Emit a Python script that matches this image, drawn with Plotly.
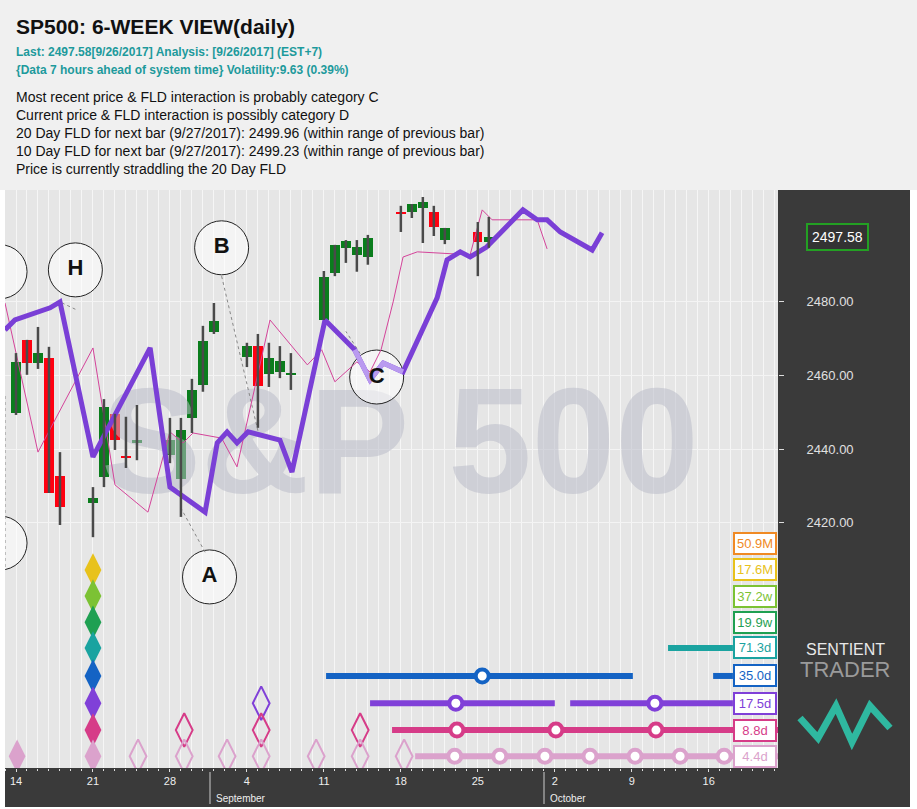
import plotly.graph_objects as go
import pandas as pd

# ---------------- data ----------------
dates = ["2017-08-14","2017-08-15","2017-08-16","2017-08-17","2017-08-18",
         "2017-08-21","2017-08-22","2017-08-23","2017-08-24","2017-08-25",
         "2017-08-28","2017-08-29","2017-08-30","2017-08-31","2017-09-01",
         "2017-09-04","2017-09-05","2017-09-06","2017-09-07","2017-09-08",
         "2017-09-11","2017-09-12","2017-09-13","2017-09-14","2017-09-15",
         "2017-09-18","2017-09-19","2017-09-20","2017-09-21","2017-09-22",
         "2017-09-25","2017-09-26"]
opens  = [2449.8,2469.7,2463.4,2464.8,2432.7, 2425.4,2432.4,2449.6,2437.8,2441.8,
          2438.4,2431.9,2448.5,2457.4,2471.8, 2465.1,2468.0,2460.4,2461.0,2460.1,
          2475.1,2487.9,2494.7,2492.8,2492.2, 2504.1,2504.5,2505.5,2504.5,2496.8,
          2499.0,2496.3]
highs  = [2466.1,2469.7,2473.2,2467.8,2439.2, 2429.7,2453.6,2449.6,2448.8,2452.0,
          2448.5,2448.5,2459.1,2473.5,2479.7, 2468.9,2471.3,2468.9,2468.0,2466.1,
          2488.4,2495.5,2496.8,2496.8,2498.2, 2506.1,2506.6,2508.5,2506.1,2500.1,
          2501.7,2503.1]
lows   = [2449.3,2460.2,2461.8,2428.1,2419.4, 2416.1,2429.7,2439.8,2434.9,2437.0,
          2436.2,2421.6,2444.4,2455.6,2471.3, 2462.3,2445.8,2456.9,2459.3,2456.1,
          2475.1,2487.0,2490.6,2488.2,2490.1, 2499.0,2502.8,2496.0,2497.9,2495.7,
          2487.0,2494.7]
closes = [2463.7,2463.4,2466.1,2428.1,2424.3, 2426.7,2451.5,2442.5,2437.5,2442.2,
          2442.5,2445.2,2456.1,2469.4,2474.8, 2468.0,2457.2,2464.8,2464.0,2460.4,
          2486.8,2495.5,2496.6,2494.9,2497.4, 2503.9,2506.6,2507.2,2500.4,2500.1,
          2496.3,2497.58]

# 20 day FLD (days since Aug 14)
fld20_x = [-1,-0.1,3.1,4,7,12.2,14,17.2,18.3,19.2,20.1,21.1,24,25.1,28.1,30.8,32.2,33.4,35.2,38.3,39.2,40.4,41.3,42.8,46.1,47.4,48.3,49.5,52.4,53.3]
fld20_y = [2472.4,2475.1,2478.4,2480.0,2437.9,2467.5,2429.7,2422.9,2441.7,2444.7,2441.7,2444.7,2442.5,2433.8,2475.1,2467.0,2458.8,2463.4,2461.0,2481.1,2491.4,2493.6,2492.2,2494.9,2505.0,2502.3,2502.3,2499.0,2494.1,2498.8]
# 10 day FLD
fld10_x = [-1,2,7,9,12,14,15.2,16.1,18.7,20.1,23.1,26.5,27.8,29,31,32.2,33.2,34.3,35.2,36.5,41.3,42.4,43.3,47.4,48.3]
fld10_y = [2479.7,2439.2,2467.5,2430.3,2422.9,2444.7,2441.7,2444.4,2443.0,2435.2,2475.1,2462.9,2467.0,2458.3,2463.7,2461.0,2467.0,2480.0,2492.2,2493.6,2492.8,2505.0,2502.3,2502.3,2494.4]
# highlighted FLD segment inside C
fld20_hl_x = [30.8,32.2,33.4,35.2]
fld20_hl_y = [2467.0,2458.8,2463.4,2461.0]

# phase labels
label_text = ["H","B","C","A","",""]
label_x = [5.4,18.7,32.8,17.6,-1.45,-1.45]
label_y = [2488.7,2494.7,2459.6,2405.3,2488.2,2414.5]

tick_days = [0,7,14,21,28,35,42,49,56,63]
tick_labels = ["14","21","28","4","11","18","25","2","9","16"]
y_ticks = [2420,2440,2460,2480]

# cycle rows
cyc_names  = ["50.9M","17.6M","37.2w","19.9w","71.3d","35.0d","17.5d","8.8d","4.4d"]
cyc_colors = ["#f08a24","#e8c21c","#7cc234","#1fa052","#1aa3a0","#1463c4","#8040d8","#d63c88","#dba2cc"]
cyc_levels = [2414.5,2407.2,2400.1,2393.0,2386.0,2378.4,2371.0,2363.7,2356.6]
cyc_segments = {4:[(59.3,65.2)],5:[(28.2,56.1),(63.4,65.2)],6:[(32.2,49.0),(50.4,65.2)],7:[(34.2,69.3)],8:[(36.3,69.3)]}
cyc_markers = {5:[42.4],6:[40.0,58.1],7:[40.1,49.1,58.2],8:[39.9,44.0,48.1,52.2,56.3,60.4,64.4]}
filled_diamonds = {1:[7],2:[7],3:[7],4:[7],5:[7],6:[7],7:[7],8:[0.1,7]}
open_diamonds = {6:[22.3],7:[15.3,22.3,31.3],8:[11.1,15.3,19.2,22.3,27.3,31.3,35.3]}

last_price = 2497.58

# ---------------- figure ----------------
W,H = 917,809
L,R,T,B = 5,778,190,768
def px(x): return (x-L)/(R-L)
def py(y): return (B-y)/(B-T)

base = pd.Timestamp("2017-08-14")
days = [(pd.Timestamp(d)-base).days for d in dates]

fig = go.Figure()
fig.add_trace(go.Scatter(x=[34.9],y=[2438.4],mode="text",text=["S&P 500"],
    textfont=dict(size=150,color="rgba(185,188,200,0.55)",family="Liberation Sans",weight="bold"),hoverinfo="skip",showlegend=False))
fig.add_trace(go.Scatter(x=label_x,y=label_y,mode="markers",
    marker=dict(size=54,color="rgba(255,255,255,0.55)",line=dict(color="#222",width=1)),showlegend=False,hoverinfo="skip"))
conn = [((5.4,2478),(4,2480.0)),((18.7,2487),(22,2445)),((17.2,2412),(15,2424)),((31.3,2466),(30,2472)),((-1,2408),(-1,2455))]
for (a,b) in conn:
    fig.add_trace(go.Scatter(x=[a[0],b[0]],y=[a[1],b[1]],mode="lines",line=dict(color="#888",width=1,dash="dot"),showlegend=False,hoverinfo="skip"))
fig.add_trace(go.Scatter(x=fld10_x,y=fld10_y,mode="lines",line=dict(color="#d4449a",width=1),showlegend=False))
fig.add_trace(go.Scatter(x=fld20_x,y=fld20_y,mode="lines",line=dict(color="#7a3fd6",width=5),showlegend=False))
fig.add_trace(go.Scatter(x=fld20_hl_x,y=fld20_hl_y,mode="lines",line=dict(color="#b99af0",width=5),showlegend=False))
wx,wy=[],[]
for d,h,l in zip(days,highs,lows):
    wx+= [d,d,None]; wy+=[l,h,None]
fig.add_trace(go.Scatter(x=wx,y=wy,mode="lines",line=dict(color="#4a4a4a",width=2.5),showlegend=False,hoverinfo="skip"))
bb=[min(o,c) for o,c in zip(opens,closes)]
bh=[max(abs(c-o),0.6) for o,c in zip(opens,closes)]
bc=["#0a7d1c" if c>=o else "#ff0010" for o,c in zip(opens,closes)]
fig.add_trace(go.Bar(x=days,y=bh,base=bb,marker=dict(color=bc,line_width=0),width=0.85,showlegend=False))
fig.add_trace(go.Scatter(x=label_x,y=label_y,mode="text",text=label_text,
    textfont=dict(size=22,color="#111",family="Liberation Sans",weight="bold"),showlegend=False,hoverinfo="skip"))
for i,(nm,col,lv) in enumerate(zip(cyc_names,cyc_colors,cyc_levels)):
    for (s,e) in cyc_segments.get(i,[]):
        fig.add_trace(go.Scatter(x=[s,e],y=[lv,lv],mode="lines",line=dict(color=col,width=6),showlegend=False))
    if i in cyc_markers:
        m=cyc_markers[i]
        fig.add_trace(go.Scatter(x=m,y=[lv]*len(m),mode="markers",marker=dict(symbol="circle",size=13,color="white",line=dict(color=col,width=4)),showlegend=False))
    if i in filled_diamonds:
        m=filled_diamonds[i]
        fig.add_trace(go.Scatter(x=m,y=[lv]*len(m),mode="markers",marker=dict(symbol="diamond-tall",size=24,color=col),showlegend=False))
    if i in open_diamonds:
        m=open_diamonds[i]
        fig.add_trace(go.Scatter(x=m,y=[lv]*len(m),mode="markers",marker=dict(symbol="diamond-tall-open",size=24,color=col,line=dict(width=2,color=col)),showlegend=False))

ann=[]
for nm,col,lv in zip(cyc_names,cyc_colors,cyc_levels):
    ann.append(dict(x=px(755),xref="paper",y=lv,yref="y",xanchor="center",text=nm,showarrow=False,
        font=dict(size=13,color=col,family="Liberation Sans Narrow, Liberation Sans"),
        bgcolor="white",bordercolor=col,borderwidth=2,borderpad=2,width=36))
ann.append(dict(x=px(14),y=py(26),xref="paper",yref="paper",xanchor="left",yanchor="middle",showarrow=False,
    text="<b>SP500: 6-WEEK VIEW(daily)</b>",font=dict(size=21,color="#111",family="Liberation Sans")))
for yy,t in [(52,"Last: 2497.58[9/26/2017] Analysis: [9/26/2017] (EST+7)"),(70,"{Data 7 hours ahead of system time} Volatility:9.63 (0.39%)")]:
    ann.append(dict(x=px(14),y=py(yy),xref="paper",yref="paper",xanchor="left",yanchor="middle",showarrow=False,
        text=t,font=dict(size=12,color="#1d9a9c",family="Liberation Sans",weight="bold")))
lines=["Most recent price & FLD interaction is probably category C","Current price & FLD interaction is possibly category D",
       "20 Day FLD for next bar (9/27/2017): 2499.96 (within range of previous bar)",
       "10 Day FLD for next bar (9/27/2017): 2499.23 (within range of previous bar)",
       "Price is currently straddling the 20 Day FLD"]
for k,t in enumerate(lines):
    ann.append(dict(x=px(14),y=py(97+k*18),xref="paper",yref="paper",xanchor="left",yanchor="middle",showarrow=False,
        text=t,font=dict(size=14,color="#111",family="Liberation Sans")))
ann.append(dict(x=px(838),xref="paper",y=last_price,yref="y",xanchor="center",text="2497.58",showarrow=False,
    font=dict(size=14,color="white",family="Liberation Sans"),bgcolor="#333",bordercolor="#23a023",borderwidth=2,borderpad=4))
for xx,t in [(214,"September"),(548,"October")]:
    ann.append(dict(x=px(xx),y=py(798),xref="paper",yref="paper",xanchor="left",yanchor="middle",showarrow=False,
        text=t,font=dict(size=10,color="#eee",family="Liberation Sans Narrow, Liberation Sans")))
ann.append(dict(x=px(845),y=py(660),xref="paper",yref="paper",xanchor="center",showarrow=False,text="SENTIENT",
    font=dict(size=16,color="#e8e8e8",family="Liberation Sans")))
ann.append(dict(x=px(845),y=py(684),xref="paper",yref="paper",xanchor="center",showarrow=False,text="TRADER",
    font=dict(size=22,color="#9a9a9a",family="Liberation Sans")))

shapes=[
    dict(type="rect",xref="paper",yref="paper",x0=px(0),x1=px(917),y0=py(190),y1=py(0),fillcolor="#f0f0f0",line_width=0,layer="below"),
    dict(type="rect",xref="paper",yref="paper",x0=px(778),x1=px(910),y0=py(807),y1=py(190),fillcolor="#3a3a3a",line_width=0,layer="below"),
    dict(type="rect",xref="paper",yref="paper",x0=px(5),x1=px(778),y0=py(807),y1=py(768),fillcolor="#3a3a3a",line_width=0,layer="below"),
    dict(type="line",xref="paper",yref="paper",x0=px(210),x1=px(210),y0=py(804),y1=py(772),line=dict(color="#ccc",width=1)),
    dict(type="line",xref="paper",yref="paper",x0=px(544),x1=px(544),y0=py(804),y1=py(772),line=dict(color="#ccc",width=1)),
    dict(type="path",xref="paper",yref="paper",
         path=f"M {px(800)},{py(718)} L {px(818)},{py(738)} L {px(836)},{py(706)} L {px(852)},{py(742)} L {px(870)},{py(706)} L {px(890)},{py(728)}",
         line=dict(color="#2fb8a0",width=7)),
]

fig.update_layout(width=W,height=H,margin=dict(l=L,r=W-R,t=T,b=H-B),
    paper_bgcolor="white",plot_bgcolor="#e6e6e6",barmode="overlay",bargap=0,
    annotations=ann,shapes=shapes,showlegend=False,
    xaxis=dict(range=[-1,69.3],tickvals=tick_days,ticktext=tick_labels,ticks="outside",ticklen=3,tickcolor="#ddd",
        tickfont=dict(size=11,color="#eee",family="Liberation Sans Narrow, Liberation Sans"),
        showgrid=True,gridcolor="#f6f6f6",gridwidth=1,zeroline=False,
        minor=dict(dtick=1,tick0=0,ticks="outside",ticklen=2,tickcolor="#ddd",showgrid=True,gridcolor="#f6f6f6")),
    yaxis=dict(range=[2353.4,2510.4],side="right",tickvals=y_ticks,tickformat=".2f",ticks="outside",ticklen=5,tickcolor="#ddd",
        tickfont=dict(size=13,color="#e0e0e0",family="Liberation Sans"),showgrid=True,gridcolor="#f4f4f4",zeroline=False,ticklabelstandoff=20),
)
fig.write_html("out.html", config={"displayModeBar": False}, post_script="document.body.style.margin='0';")
